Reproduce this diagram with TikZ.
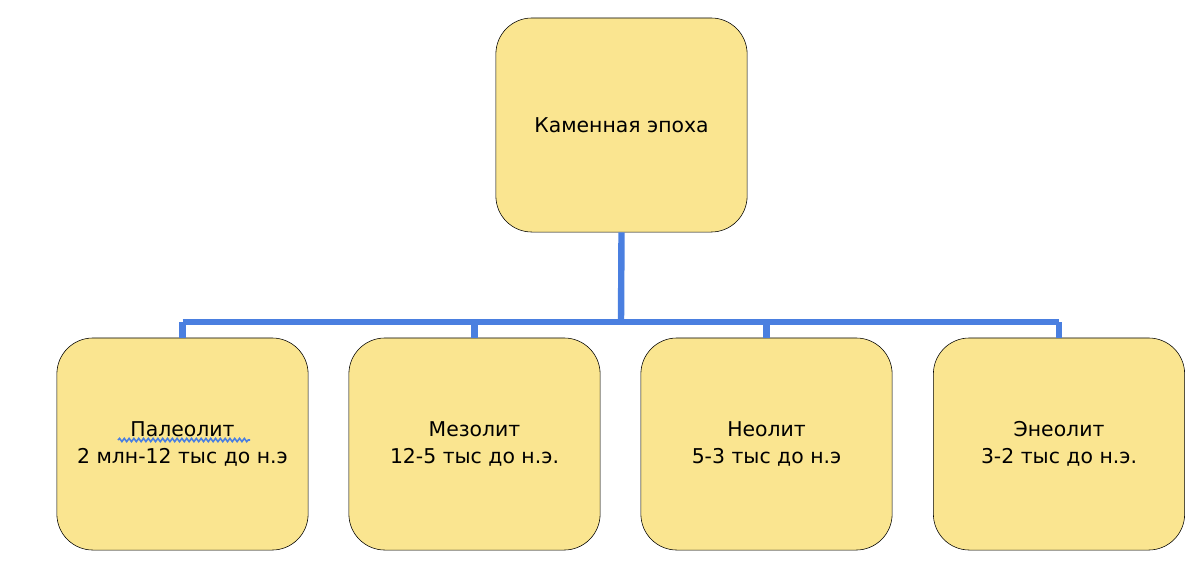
\documentclass[tikz,border=0pt]{standalone}
\usepackage{fontspec}
\setmainfont{DejaVu Sans}
\usetikzlibrary{positioning, decorations.pathmorphing}
\definecolor{boxyellow}{HTML}{FAE590}
\definecolor{linkblue}{HTML}{4A7FE0}
\tikzset{%
	epoch box/.style={
		draw,
		fill=boxyellow,
		rounded corners=0.9cm,
		minimum width=6.28cm,
		minimum height=5.3cm,
		align=center,
		font=\fontsize{14.5}{19}\selectfont
	},
	epoch link/.style={
		draw=linkblue,
		line width=1.6mm
	},
}
\begin{document}
\begin{tikzpicture}[x=0.025cm, y=-0.025cm]
	\useasboundingbox (0,0) rectangle (1200,574);
	% Top box
	\node[epoch box, minimum height=5.35cm] (stone) at (621.5,125) {Каменная эпоха};
	% Branch point
	\coordinate (fork) at (621,322);
	\draw[epoch link] (stone.south) -- (fork);
	% Lower boxes
	\foreach \cx/\name/\txt [count=\i] in {182.5/palaeo/{Палеолит\\2 млн-12 тыс до н.э},
			474.5/meso/{Мезолит\\12-5 тыс до н.э.},
			766.5/neo/{Неолит\\5-3 тыс до н.э},
			1059/eneo/{Энеолит\\3-2 тыс до н.э.}} {
		\node[epoch box] (\name) at (\cx,444) {\txt};
		\coordinate (\name top) at (\cx,322);
		\draw[epoch link] (\name top) -- (\name.north);
	}
	\draw[epoch link] (palaeotop) -- (eneotop);
	% Spell-check underline
	\draw[linkblue, line width=0.4mm, decorate,
		decoration={snake, amplitude=0.4mm, segment length=1.2mm}]
		(118,440) -- (250,440);
\end{tikzpicture}
\end{document}
